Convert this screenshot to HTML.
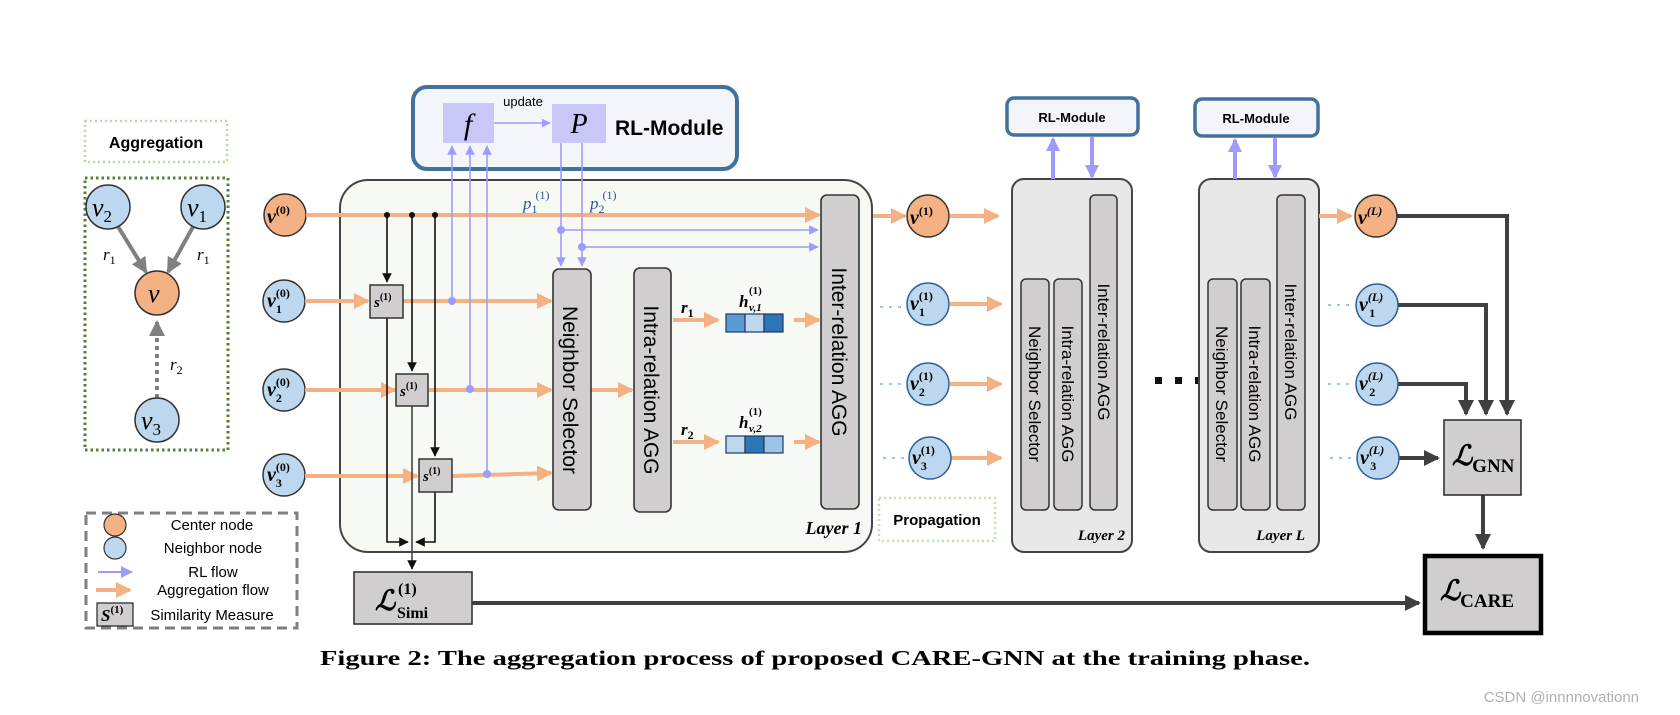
<!DOCTYPE html>
<html><head><meta charset="utf-8"><style>
html,body{margin:0;padding:0;background:#fff;}
svg{display:block;}
.sans{font-family:"Liberation Sans",sans-serif;}
.serif{font-family:"Liberation Serif",serif;}
</style></head><body>
<svg width="1680" height="715" viewBox="0 0 1680 715" xmlns="http://www.w3.org/2000/svg">
<defs>
<marker id="ao" markerWidth="4" markerHeight="4" refX="3.5" refY="2" orient="auto" markerUnits="strokeWidth"><path d="M0,0 L4,2 L0,4 z" fill="#f4b183"/></marker>
<marker id="ap" markerWidth="6" markerHeight="6" refX="5.5" refY="3" orient="auto" markerUnits="strokeWidth"><path d="M0,0 L6,3 L0,6 z" fill="#9e9bff"/></marker>
<marker id="apb" markerWidth="3.5" markerHeight="3.5" refX="3" refY="1.75" orient="auto" markerUnits="strokeWidth"><path d="M0,0 L3.5,1.75 L0,3.5 z" fill="#9e9bff"/></marker>
<marker id="ak" markerWidth="6" markerHeight="6" refX="5.5" refY="3" orient="auto" markerUnits="strokeWidth"><path d="M0,0 L6,3 L0,6 z" fill="#111"/></marker>
<marker id="ad" markerWidth="4" markerHeight="4" refX="3.5" refY="2" orient="auto" markerUnits="strokeWidth"><path d="M0,0 L4,2 L0,4 z" fill="#404040"/></marker>
<marker id="ag" markerWidth="4" markerHeight="4" refX="3.5" refY="2" orient="auto" markerUnits="strokeWidth"><path d="M0,0 L4,2 L0,4 z" fill="#808080"/></marker>
</defs>

<!-- Aggregation panel -->
<rect x="85" y="121" width="142" height="41" fill="none" stroke="#b7dca0" stroke-width="2.5" stroke-dasharray="2,3"/>
<text x="156" y="148" class="sans" font-size="16" font-weight="bold" text-anchor="middle">Aggregation</text>
<rect x="85" y="178" width="143" height="272" fill="none" stroke="#548235" stroke-width="3" stroke-dasharray="2.5,3"/>
<line x1="117" y1="225" x2="146" y2="272" stroke="#808080" stroke-width="4" marker-end="url(#ag)"/>
<line x1="194" y1="225" x2="168" y2="272" stroke="#808080" stroke-width="4" marker-end="url(#ag)"/>
<line x1="157" y1="398" x2="157" y2="322" stroke="#808080" stroke-width="4" stroke-dasharray="4,4" marker-end="url(#ag)"/>
<circle cx="108" cy="207" r="22" fill="#bdd7ee" stroke="#333" stroke-width="1.5"/>
<circle cx="203" cy="207" r="22" fill="#bdd7ee" stroke="#333" stroke-width="1.5"/>
<circle cx="157" cy="293" r="22" fill="#f4b183" stroke="#333" stroke-width="1.5"/>
<circle cx="157" cy="420" r="22" fill="#bdd7ee" stroke="#333" stroke-width="1.5"/>
<g class="serif" font-style="italic" font-size="26">
<text x="92" y="216">v<tspan font-size="17" font-style="normal" dy="6">2</tspan></text>
<text x="187" y="216">v<tspan font-size="17" font-style="normal" dy="6">1</tspan></text>
<text x="148" y="302">v</text>
<text x="141" y="429">v<tspan font-size="17" font-style="normal" dy="6">3</tspan></text>
</g>
<g class="serif" font-style="italic" font-size="17">
<text x="103" y="260">r<tspan font-size="12" font-style="normal" dy="4">1</tspan></text>
<text x="197" y="260">r<tspan font-size="12" font-style="normal" dy="4">1</tspan></text>
<text x="170" y="370">r<tspan font-size="12" font-style="normal" dy="4">2</tspan></text>
</g>

<!-- Legend -->
<rect x="86" y="513" width="211" height="115" fill="none" stroke="#7f7f7f" stroke-width="3" stroke-dasharray="10,6"/>
<circle cx="115" cy="525" r="11" fill="#f4b183" stroke="#333" stroke-width="1.2"/>
<circle cx="115" cy="548" r="11" fill="#bdd7ee" stroke="#333" stroke-width="1.2"/>
<line x1="98" y1="572" x2="132" y2="572" stroke="#9e9bff" stroke-width="2" marker-end="url(#ap)"/>
<line x1="96" y1="590" x2="130" y2="590" stroke="#f4b183" stroke-width="4" marker-end="url(#ao)"/>
<rect x="97" y="603" width="36" height="23" fill="#d0cece" stroke="#222" stroke-width="1.2"/>
<text x="101" y="621" class="serif" font-weight="bold" font-style="italic" font-size="17">S<tspan font-size="11" font-style="normal" dy="-8">(1)</tspan></text>
<g class="sans" font-size="15" text-anchor="middle">
<text x="212" y="530">Center  node</text>
<text x="213" y="553">Neighbor  node</text>
<text x="213" y="577">RL  flow</text>
<text x="213" y="595">Aggregation  flow</text>
<text x="212" y="620">Similarity  Measure</text>
</g>

<!-- RL Module big -->
<rect x="413" y="87" width="324" height="82" rx="14" fill="#f2f6fa" stroke="#41719c" stroke-width="4"/>
<rect x="443" y="103" width="51" height="40" fill="#c9c7f8"/>
<rect x="552" y="104" width="54" height="39" fill="#c9c7f8"/>
<text x="468" y="134" class="serif" font-style="italic" font-size="30" text-anchor="middle">f</text>
<text x="579" y="133" class="serif" font-style="italic" font-size="28" text-anchor="middle">P</text>
<text x="523" y="106" class="sans" font-size="13" text-anchor="middle">update</text>
<line x1="494" y1="123" x2="550" y2="123" stroke="#9e9bff" stroke-width="1.5" marker-end="url(#ap)"/>
<text x="615" y="135" class="sans" font-size="21" font-weight="bold">RL-Module</text>

<!-- Layer 1 -->
<rect x="340" y="180" width="532" height="372" rx="28" fill="#f7f9f5" stroke="#444" stroke-width="2"/>
<text x="862" y="534" class="serif" font-style="italic" font-weight="bold" font-size="18" text-anchor="end">Layer 1</text>

<!-- left nodes -->
<circle cx="285" cy="215" r="21" fill="#f4b183" stroke="#333" stroke-width="1.5"/>
<circle cx="284" cy="301" r="21" fill="#bdd7ee" stroke="#333" stroke-width="1.5"/>
<circle cx="284" cy="390" r="21" fill="#bdd7ee" stroke="#333" stroke-width="1.5"/>
<circle cx="284" cy="475" r="21" fill="#bdd7ee" stroke="#333" stroke-width="1.5"/>
<g class="serif" font-style="italic" font-weight="bold" font-size="20">
<text x="267" y="223">v<tspan font-size="12" font-style="normal" dy="-9">(0)</tspan></text>
<text x="267" y="307">v<tspan font-size="12" font-style="normal" dy="-10">(0)</tspan><tspan font-size="12" font-style="normal" dx="-14" dy="16">1</tspan></text>
<text x="267" y="396">v<tspan font-size="12" font-style="normal" dy="-10">(0)</tspan><tspan font-size="12" font-style="normal" dx="-14" dy="16">2</tspan></text>
<text x="267" y="481">v<tspan font-size="12" font-style="normal" dy="-10">(0)</tspan><tspan font-size="12" font-style="normal" dx="-14" dy="16">3</tspan></text>
</g>

<!-- orange flows layer 1 -->
<g stroke="#f4b183" stroke-width="4" fill="none">
<line x1="306" y1="215" x2="819" y2="215" marker-end="url(#ao)"/>
<line x1="305" y1="301" x2="368" y2="301" marker-end="url(#ao)"/>
<line x1="403" y1="301" x2="551" y2="301" marker-end="url(#ao)"/>
<line x1="305" y1="390" x2="395" y2="390" marker-end="url(#ao)"/>
<line x1="428" y1="390" x2="551" y2="390" marker-end="url(#ao)"/>
<line x1="591" y1="390" x2="632" y2="390" marker-end="url(#ao)"/>
<line x1="305" y1="476" x2="417" y2="476" marker-end="url(#ao)"/>
<line x1="452" y1="476" x2="551" y2="473" marker-end="url(#ao)"/>
<line x1="673" y1="320" x2="718" y2="320" marker-end="url(#ao)"/>
<line x1="673" y1="442" x2="718" y2="442" marker-end="url(#ao)"/>
<line x1="794" y1="320" x2="819" y2="320" marker-end="url(#ao)"/>
<line x1="794" y1="442" x2="819" y2="442" marker-end="url(#ao)"/>
</g>

<!-- black similarity paths -->
<g stroke="#111" stroke-width="1.6" fill="none">
<line x1="387" y1="215" x2="387" y2="282" marker-end="url(#ak)"/>
<line x1="412" y1="215" x2="412" y2="371" marker-end="url(#ak)"/>
<line x1="435" y1="215" x2="435" y2="456" marker-end="url(#ak)"/>
<polyline points="387,318 387,542 408,542" marker-end="url(#ak)"/>
<polyline points="435,492 435,542 416,542" marker-end="url(#ak)"/>
<line x1="412" y1="406" x2="412" y2="569" stroke="#444" marker-end="url(#ak)"/>
</g>
<circle cx="387" cy="215" r="3" fill="#111"/>
<circle cx="412" cy="215" r="3" fill="#111"/>
<circle cx="435" cy="215" r="3" fill="#111"/>

<!-- S boxes -->
<g fill="#d0cece" stroke="#333" stroke-width="1.5">
<rect x="370" y="285" width="33" height="33"/>
<rect x="396" y="374" width="32" height="32"/>
<rect x="419" y="459" width="33" height="33"/>
</g>
<g class="serif" font-style="italic" font-weight="bold" font-size="15">
<text x="374" y="307">s<tspan font-size="10" font-style="normal" dy="-7">(1)</tspan></text>
<text x="400" y="396">s<tspan font-size="10" font-style="normal" dy="-7">(1)</tspan></text>
<text x="423" y="481">s<tspan font-size="10" font-style="normal" dy="-7">(1)</tspan></text>
</g>

<!-- purple RL lines -->
<g stroke="#9e9bff" stroke-width="1.6" fill="none">
<line x1="452" y1="301" x2="452" y2="146" marker-end="url(#ap)"/>
<line x1="470" y1="389" x2="470" y2="146" marker-end="url(#ap)"/>
<line x1="487" y1="474" x2="487" y2="146" marker-end="url(#ap)"/>
<line x1="561" y1="143" x2="561" y2="266" marker-end="url(#ap)"/>
<line x1="582" y1="143" x2="582" y2="266" marker-end="url(#ap)"/>
<line x1="561" y1="230" x2="818" y2="230" marker-end="url(#ap)"/>
<line x1="582" y1="247" x2="818" y2="247" marker-end="url(#ap)"/>
</g>
<g fill="#9e9bff">
<circle cx="452" cy="301" r="4"/><circle cx="470" cy="389" r="4"/><circle cx="487" cy="474" r="4"/>
<circle cx="561" cy="230" r="4"/><circle cx="582" cy="247" r="4"/>
</g>
<g class="serif" font-style="italic" font-size="17" fill="#2f5597">
<text x="523" y="209">p<tspan font-size="12" font-style="normal" dy="4">1</tspan><tspan font-size="12" font-style="normal" dy="-14" dx="-2">(1)</tspan></text>
<text x="590" y="209">p<tspan font-size="12" font-style="normal" dy="4">2</tspan><tspan font-size="12" font-style="normal" dy="-14" dx="-2">(1)</tspan></text>
</g>

<!-- layer1 blocks -->
<g fill="#d0cece" stroke="#333" stroke-width="1.6">
<rect x="553" y="269" width="38" height="241" rx="6"/>
<rect x="634" y="268" width="37" height="244" rx="6"/>
<rect x="821" y="195" width="38" height="314" rx="6"/>
</g>
<g class="sans" font-size="21">
<text transform="translate(563,390) rotate(90)" text-anchor="middle">Neighbor Selector</text>
<text transform="translate(644,390) rotate(90)" text-anchor="middle">Intra-relation AGG</text>
<text transform="translate(832,352) rotate(90)" text-anchor="middle">Inter-relation AGG</text>
</g>
<g class="serif" font-style="italic" font-weight="bold" font-size="17">
<text x="681" y="313">r<tspan font-size="12" font-style="normal" dy="4">1</tspan></text>
<text x="681" y="435">r<tspan font-size="12" font-style="normal" dy="4">2</tspan></text>
<text x="739" y="307">h</text>
<text x="749" y="311" font-size="11">v,1</text>
<text x="749" y="294" font-size="11" font-style="normal">(1)</text>
<text x="739" y="428">h</text>
<text x="749" y="432" font-size="11">v,2</text>
<text x="749" y="415" font-size="11" font-style="normal">(1)</text>
</g>
<g stroke="#1f3864" stroke-width="1.2">
<rect x="726" y="314" width="19" height="18" fill="#5b9bd5"/>
<rect x="745" y="314" width="19" height="18" fill="#bdd7ee"/>
<rect x="764" y="314" width="19" height="18" fill="#2e75b6"/>
<rect x="726" y="436" width="19" height="17" fill="#bdd7ee"/>
<rect x="745" y="436" width="19" height="17" fill="#2e75b6"/>
<rect x="764" y="436" width="19" height="17" fill="#9dc3e6"/>
</g>

<!-- L simi -->
<rect x="354" y="572" width="118" height="52" fill="#d0cece" stroke="#333" stroke-width="1.6"/>
<text x="375" y="610" class="serif" font-style="italic" font-weight="bold" font-size="28">ℒ</text>
<text x="398" y="594" class="serif" font-weight="bold" font-size="16">(1)</text>
<text x="397" y="618" class="serif" font-weight="bold" font-size="16">Simi</text>
<line x1="472" y1="603" x2="1419" y2="603" stroke="#404040" stroke-width="4" marker-end="url(#ad)"/>

<!-- between layer1 and layer2 -->
<line x1="873" y1="216" x2="905" y2="216" stroke="#f4b183" stroke-width="4" marker-end="url(#ao)"/>
<g stroke="#f4b183" stroke-width="4">
<line x1="950" y1="216" x2="998" y2="216" marker-end="url(#ao)"/>
<line x1="950" y1="304" x2="1001" y2="304" marker-end="url(#ao)"/>
<line x1="950" y1="384" x2="1001" y2="384" marker-end="url(#ao)"/>
<line x1="951" y1="458" x2="1001" y2="458" marker-end="url(#ao)"/>
</g>
<g stroke="#9dc3e6" stroke-width="2" stroke-dasharray="3,6">
<line x1="880" y1="307" x2="907" y2="307"/>
<line x1="880" y1="384" x2="907" y2="384"/>
<line x1="883" y1="458" x2="909" y2="458"/>
</g>
<circle cx="928" cy="216" r="21" fill="#f4b183" stroke="#333" stroke-width="1.5"/>
<g fill="#bdd7ee" stroke="#2e5d9a" stroke-width="1.5">
<circle cx="928" cy="304" r="21"/><circle cx="928" cy="384" r="21"/><circle cx="930" cy="458" r="21"/>
</g>
<g class="serif" font-style="italic" font-weight="bold" font-size="20">
<text x="910" y="224">v<tspan font-size="12" font-style="normal" dy="-9">(1)</tspan></text>
<text x="910" y="310">v<tspan font-size="12" font-style="normal" dy="-10">(1)</tspan><tspan font-size="12" font-style="normal" dx="-14" dy="16">1</tspan></text>
<text x="910" y="390">v<tspan font-size="12" font-style="normal" dy="-10">(1)</tspan><tspan font-size="12" font-style="normal" dx="-14" dy="16">2</tspan></text>
<text x="912" y="464">v<tspan font-size="12" font-style="normal" dy="-10">(1)</tspan><tspan font-size="12" font-style="normal" dx="-14" dy="16">3</tspan></text>
</g>
<rect x="879" y="498" width="116" height="43" fill="none" stroke="#c5e0b4" stroke-width="2.5" stroke-dasharray="2,3"/>
<text x="937" y="525" class="sans" font-size="15" font-weight="bold" text-anchor="middle">Propagation</text>

<!-- Layer 2 -->
<rect x="1012" y="179" width="120" height="373" rx="12" fill="#e8e8e8" stroke="#444" stroke-width="2"/>
<g fill="#d0cece" stroke="#333" stroke-width="1.5">
<rect x="1021" y="279" width="28" height="231" rx="5"/>
<rect x="1054" y="279" width="28" height="231" rx="5"/>
<rect x="1090" y="195" width="27" height="315" rx="5"/>
</g>
<g class="sans" font-size="17">
<text transform="translate(1029,394) rotate(90)" text-anchor="middle">Neighbor Selector</text>
<text transform="translate(1062,394) rotate(90)" text-anchor="middle">Intra-relation AGG</text>
<text transform="translate(1098,352) rotate(90)" text-anchor="middle">Inter-relation AGG</text>
</g>
<text x="1125" y="540" class="serif" font-style="italic" font-weight="bold" font-size="15" text-anchor="end">Layer 2</text>
<rect x="1007" y="98" width="131" height="37" rx="7" fill="#f2f6fa" stroke="#41719c" stroke-width="3.5"/>
<text x="1072" y="122" class="sans" font-size="13" font-weight="bold" text-anchor="middle">RL-Module</text>
<line x1="1053" y1="179" x2="1053" y2="139" stroke="#9e9bff" stroke-width="4" marker-end="url(#apb)"/>
<line x1="1092" y1="137" x2="1092" y2="177" stroke="#9e9bff" stroke-width="4" marker-end="url(#apb)"/>

<!-- dots -->
<g fill="#111"><rect x="1155" y="377" width="7" height="7"/><rect x="1175" y="377" width="7" height="7"/><rect x="1195" y="377" width="7" height="7"/></g>

<!-- Layer L -->
<rect x="1199" y="179" width="120" height="373" rx="12" fill="#e8e8e8" stroke="#444" stroke-width="2"/>
<g fill="#d0cece" stroke="#333" stroke-width="1.5">
<rect x="1208" y="279" width="29" height="231" rx="5"/>
<rect x="1241" y="279" width="29" height="231" rx="5"/>
<rect x="1277" y="195" width="28" height="315" rx="5"/>
</g>
<g class="sans" font-size="17">
<text transform="translate(1216,394) rotate(90)" text-anchor="middle">Neighbor Selector</text>
<text transform="translate(1249,394) rotate(90)" text-anchor="middle">Intra-relation AGG</text>
<text transform="translate(1285,352) rotate(90)" text-anchor="middle">Inter-relation AGG</text>
</g>
<text x="1305" y="540" class="serif" font-style="italic" font-weight="bold" font-size="15" text-anchor="end">Layer L</text>
<rect x="1195" y="99" width="123" height="37" rx="7" fill="#f2f6fa" stroke="#41719c" stroke-width="3.5"/>
<text x="1256" y="123" class="sans" font-size="13" font-weight="bold" text-anchor="middle">RL-Module</text>
<line x1="1235" y1="179" x2="1235" y2="140" stroke="#9e9bff" stroke-width="4" marker-end="url(#apb)"/>
<line x1="1275" y1="138" x2="1275" y2="177" stroke="#9e9bff" stroke-width="4" marker-end="url(#apb)"/>

<!-- Layer L outputs -->
<line x1="1319" y1="216" x2="1351" y2="216" stroke="#f4b183" stroke-width="4" marker-end="url(#ao)"/>
<g stroke="#9dc3e6" stroke-width="2" stroke-dasharray="3,6">
<line x1="1328" y1="305" x2="1354" y2="305"/>
<line x1="1328" y1="384" x2="1354" y2="384"/>
<line x1="1330" y1="458" x2="1355" y2="458"/>
</g>
<g stroke="#404040" stroke-width="4" fill="none">
<polyline points="1397,216 1507,216 1507,414" marker-end="url(#ad)"/>
<polyline points="1398,305 1486,305 1486,414" marker-end="url(#ad)"/>
<polyline points="1398,384 1466,384 1466,414" marker-end="url(#ad)"/>
<line x1="1399" y1="458" x2="1438" y2="458" marker-end="url(#ad)"/>
<line x1="1483" y1="495" x2="1483" y2="548" marker-end="url(#ad)"/>
</g>
<circle cx="1376" cy="216" r="21" fill="#f4b183" stroke="#333" stroke-width="1.5"/>
<g fill="#bdd7ee" stroke="#2e5d9a" stroke-width="1.5">
<circle cx="1377" cy="305" r="21"/><circle cx="1377" cy="384" r="21"/><circle cx="1378" cy="458" r="21"/>
</g>
<g class="serif" font-style="italic" font-weight="bold" font-size="20">
<text x="1358" y="224">v<tspan font-size="12" dy="-9">(L)</tspan></text>
<text x="1359" y="311">v<tspan font-size="12" dy="-10">(L)</tspan><tspan font-size="12" font-style="normal" dx="-14" dy="16">1</tspan></text>
<text x="1359" y="390">v<tspan font-size="12" dy="-10">(L)</tspan><tspan font-size="12" font-style="normal" dx="-14" dy="16">2</tspan></text>
<text x="1360" y="464">v<tspan font-size="12" dy="-10">(L)</tspan><tspan font-size="12" font-style="normal" dx="-14" dy="16">3</tspan></text>
</g>
<rect x="1444" y="420" width="77" height="75" fill="#d0cece" stroke="#333" stroke-width="1.6"/>
<text x="1452" y="465" class="serif" font-style="italic" font-weight="bold" font-size="28">ℒ<tspan font-style="normal" font-size="19" dy="7">GNN</tspan></text>
<rect x="1425" y="556" width="116" height="77" fill="#d0cece" stroke="#000" stroke-width="4.5"/>
<text x="1440" y="600" class="serif" font-style="italic" font-weight="bold" font-size="28">ℒ<tspan font-style="normal" font-size="19" dy="7">CARE</tspan></text>

<!-- caption -->
<text x="815" y="665" class="serif" font-weight="bold" font-size="21" text-anchor="middle" textLength="990" lengthAdjust="spacingAndGlyphs">Figure 2: The aggregation process of proposed CARE-GNN at the training phase.</text>
<text x="1639" y="702" class="sans" font-size="15" fill="#b0b0b0" text-anchor="end">CSDN @innnnovationn</text>
</svg>
</body></html>
